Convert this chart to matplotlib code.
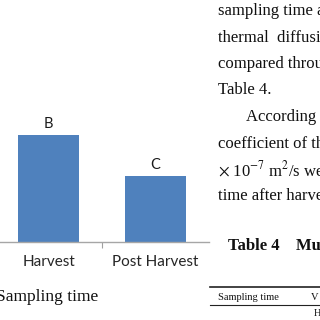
import matplotlib
matplotlib.use('Agg')
import matplotlib.pyplot as plt

# 데이터
categories = ['Harvest', 'Post Harvest']
values = [1.07, 0.66]
letters = ['B', 'C']

plt.rcParams['mathtext.fontset'] = 'stix'

fig = plt.figure(figsize=(3.2, 3.2), dpi=100)
W = H = 320.0

# 차트 영역 (오른쪽 잘린 논문 페이지의 일부)
ax = fig.add_axes([-5 / W, 1 - 242 / H, 214 / W, 242 / H])
ax.bar(range(len(categories)), values, width=0.57, color='#4F81BD')
for i, (v, s) in enumerate(zip(values, letters)):
    ax.text(i, v + 0.04, s, ha='center', va='bottom', fontsize=10.5,
            family='Lato', color='#1a1a1a')
ax.set_xlim(-0.5, 1.5)
ax.set_ylim(0, 2.42)
ax.set_xticks([0.5])
ax.set_xticklabels([''])
ax.tick_params(axis='x', length=4, color='#a0a0a0', direction='out')
for i, c in enumerate(categories):
    ax.text(i, -0.2, c, ha='center', va='center', fontsize=11,
            family='Lato', color='#262626')
ax.set_yticks([])
for sp in ['top', 'right', 'left']:
    ax.spines[sp].set_visible(False)
ax.spines['bottom'].set_color('#a6a6a6')
ax.spines['bottom'].set_linewidth(1)
ax.patch.set_alpha(0)

serif = 'Liberation Serif'
fig.text(-4 / W, 1 - 297 / H, 'Sampling time', family=serif, fontsize=12.5,
         va='center', ha='left', color='#111111')

# 오른쪽 본문 텍스트
lines = ['sampling time a', 'thermal  diffusi', 'compared throu', 'Table 4.',
         '       According', 'coefficient of th',
         r'$\times$ 10$^{-7}$ m$^{2}$/s were', 'time after harve']
for k, t in enumerate(lines):
    fig.text(218 / W, 1 - (11 + 26.5 * k) / H, t, family=serif, fontsize=12,
             va='center', ha='left', color='#111111')

fig.text(228 / W, 1 - 246 / H, 'Table 4    Mut', family=serif, fontsize=12,
         fontweight='bold', va='center', ha='left', color='#111111')
fig.add_artist(plt.Line2D([210 / W, 1], [1 - 287 / H] * 2, color='#222222', lw=1.2))
fig.add_artist(plt.Line2D([210 / W, 1], [1 - 305 / H] * 2, color='#222222', lw=0.8))
fig.text(218 / W, 1 - 297 / H, 'Sampling time', family=serif, fontsize=7.5,
         va='center', ha='left', color='#111111')
fig.text(311 / W, 1 - 297 / H, 'V', family=serif, fontsize=7.5,
         va='center', ha='left', color='#111111')
fig.text(314 / W, 1 - 314 / H, 'H', family=serif, fontsize=7.5,
         va='center', ha='left', color='#111111')

fig.savefig('out.png', dpi=100)
